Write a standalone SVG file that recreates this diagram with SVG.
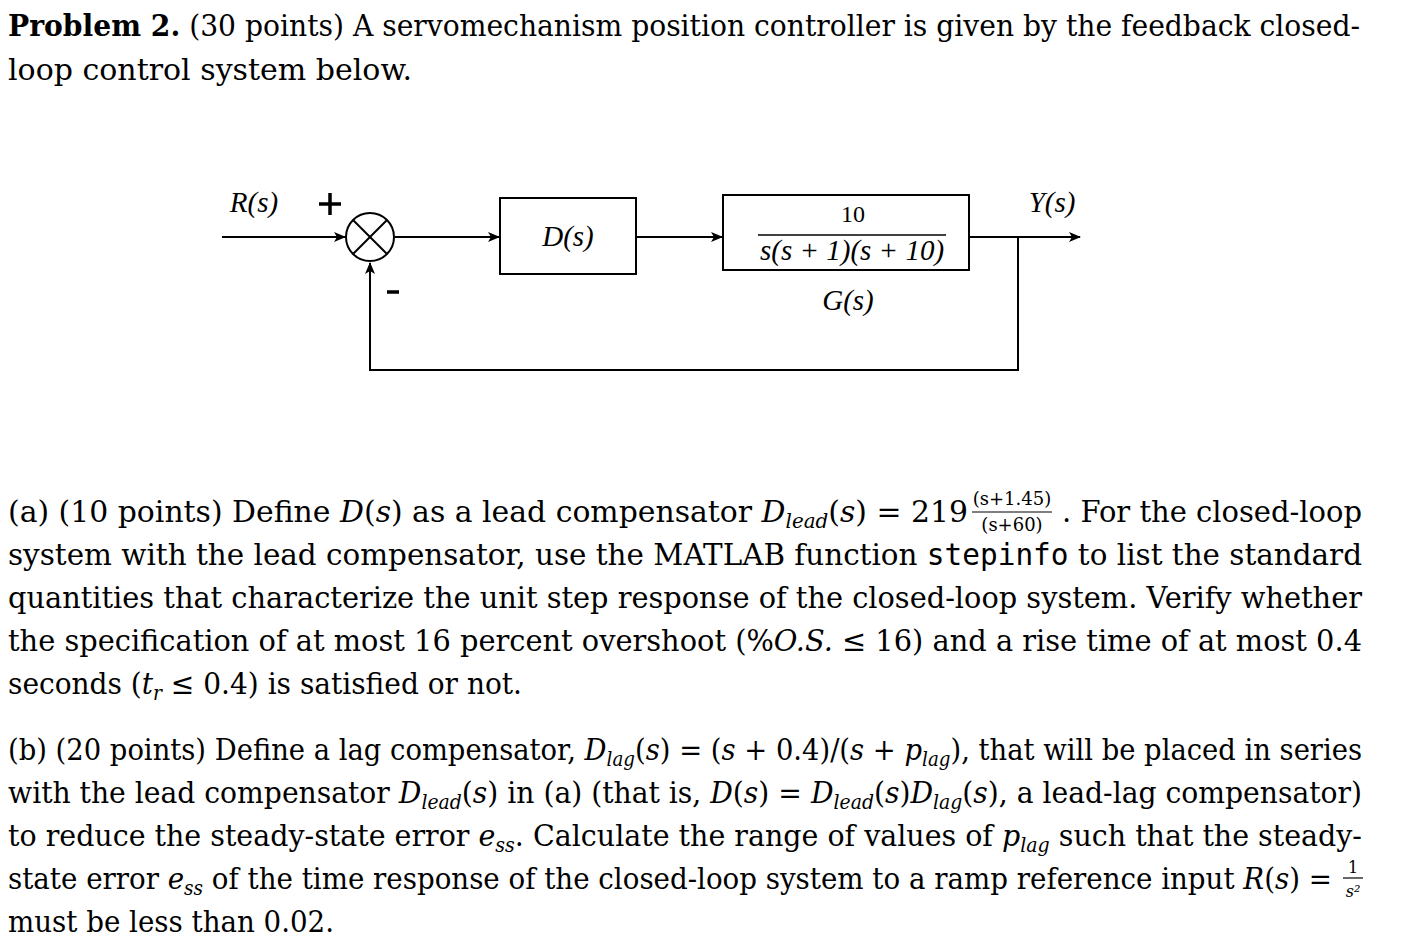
<svg xmlns="http://www.w3.org/2000/svg" width="1406" height="940" viewBox="0 0 1406 940">
<defs>
<style>
.t{font-family:"DejaVu Serif","Liberation Serif",serif;font-size:30px;fill:#000}
.m{font-family:"Liberation Serif","DejaVu Serif",serif;font-size:29px;font-style:italic;fill:#000}
.n{font-family:"Liberation Serif","DejaVu Serif",serif;font-size:24px;fill:#000}
.mono{font-family:"DejaVu Sans Mono","Liberation Mono",monospace}
.ln{stroke:#000;stroke-width:2;fill:none}
</style>
<marker id="a" markerWidth="12" markerHeight="10" refX="11" refY="5" orient="auto" markerUnits="userSpaceOnUse"><path d="M0,0 L12,5 L0,10 L3,5 Z" fill="#000"/></marker>
</defs>
<rect width="1406" height="940" fill="#fff"/>
<text class="t" x="8" y="36" textLength="1352" lengthAdjust="spacingAndGlyphs"><tspan font-weight="bold">Problem 2.</tspan> (30 points) A servomechanism position controller is given by the feedback closed-</text>
<text class="t" x="8" y="80">loop control system below.</text>

<g id="connectors">
<line class="ln" x1="222" y1="237" x2="345" y2="237" marker-end="url(#a)"/>
<line class="ln" x1="395" y1="237" x2="499" y2="237" marker-end="url(#a)"/>
<line class="ln" x1="636" y1="237" x2="722" y2="237" marker-end="url(#a)"/>
<line class="ln" x1="969" y1="237" x2="1080" y2="237" marker-end="url(#a)"/>
<polyline class="ln" points="1018,237 1018,370 370,370 370,263" marker-end="url(#a)"/>
</g>
<g id="sum">
<circle class="ln" cx="370" cy="237" r="24"/>
<line class="ln" x1="353" y1="220" x2="387" y2="254"/>
<line class="ln" x1="387" y1="220" x2="353" y2="254"/>
<path d="M319,204 H341 M330,193 V215" stroke="#000" stroke-width="3.5"/>
<path d="M387,292 H399" stroke="#000" stroke-width="3.5"/>
</g>
<g id="R"><text class="m" x="254" y="212" text-anchor="middle">R(s)</text></g>
<g id="Y"><text class="m" x="1052" y="212" text-anchor="middle">Y(s)</text></g>
<g id="D"><rect class="ln" x="500" y="198" width="136" height="76"/><text class="m" x="568" y="246" text-anchor="middle">D(s)</text></g>
<g id="G"><rect class="ln" x="723" y="195" width="246" height="75"/>
<text class="n" x="853" y="222" text-anchor="middle">10</text>
<line x1="758" y1="235" x2="946" y2="235" stroke="#000" stroke-width="1.5"/>
<text class="m" x="852" y="260" text-anchor="middle" font-size="25">s(s + 1)(s + 10)</text>
<text class="m" x="848" y="310" text-anchor="middle">G(s)</text></g>

<text class="t" x="8" y="522" textLength="960" lengthAdjust="spacingAndGlyphs">(a) (10 points) Define <tspan font-style="italic">D</tspan>(<tspan font-style="italic">s</tspan>) as a lead compensator <tspan font-style="italic">D<tspan font-size="20" dy="6">lead</tspan></tspan><tspan dy="-6">(</tspan><tspan font-style="italic">s</tspan>)  =  219</text>
<text x="1012" y="505" font-family="DejaVu Serif,serif" font-size="18" text-anchor="middle">(s+1.45)</text>
<line x1="972" y1="512" x2="1052" y2="512" stroke="#000" stroke-width="1.2"/>
<text x="1012" y="531" font-family="DejaVu Serif,serif" font-size="18" text-anchor="middle">(s+60)</text>
<text class="t" x="1362" y="522" text-anchor="end" textLength="300" lengthAdjust="spacingAndGlyphs">.  For the closed-loop</text>
<text class="t" x="8" y="565" textLength="1354" lengthAdjust="spacingAndGlyphs">system with the lead compensator, use the MATLAB function <tspan class="mono">stepinfo</tspan> to list the standard</text>
<text class="t" x="8" y="608" textLength="1354" lengthAdjust="spacingAndGlyphs">quantities that characterize the unit step response of the closed-loop system. Verify whether</text>
<text class="t" x="8" y="651" textLength="1354" lengthAdjust="spacingAndGlyphs">the specification of at most 16 percent overshoot (%<tspan font-style="italic">O.S.</tspan> ≤ 16) and a rise time of at most 0.4</text>
<text class="t" x="8" y="694" textLength="514" lengthAdjust="spacingAndGlyphs">seconds (<tspan font-style="italic">t<tspan font-size="20" dy="6">r</tspan></tspan><tspan dy="-6"> ≤ 0.4) is satisfied or not.</tspan></text>

<text class="t" x="8" y="760" textLength="1354" lengthAdjust="spacingAndGlyphs">(b) (20 points) Define a lag compensator, <tspan font-style="italic">D<tspan font-size="20" dy="6">lag</tspan></tspan><tspan dy="-6">(</tspan><tspan font-style="italic">s</tspan>) = (<tspan font-style="italic">s</tspan> + 0.4)/(<tspan font-style="italic">s</tspan> + <tspan font-style="italic">p<tspan font-size="20" dy="6">lag</tspan></tspan><tspan dy="-6">), that will be placed in series</tspan></text>
<text class="t" x="8" y="803" textLength="1354" lengthAdjust="spacingAndGlyphs">with the lead compensator <tspan font-style="italic">D<tspan font-size="20" dy="6">lead</tspan></tspan><tspan dy="-6">(</tspan><tspan font-style="italic">s</tspan>) in (a) (that is, <tspan font-style="italic">D</tspan>(<tspan font-style="italic">s</tspan>) = <tspan font-style="italic">D<tspan font-size="20" dy="6">lead</tspan></tspan><tspan dy="-6">(</tspan><tspan font-style="italic">s</tspan>)<tspan font-style="italic">D<tspan font-size="20" dy="6">lag</tspan></tspan><tspan dy="-6">(</tspan><tspan font-style="italic">s</tspan>), a lead-lag compensator)</text>
<text class="t" x="8" y="846" textLength="1354" lengthAdjust="spacingAndGlyphs">to reduce the steady-state error <tspan font-style="italic">e<tspan font-size="20" dy="6">ss</tspan></tspan><tspan dy="-6">. Calculate the range of values of </tspan><tspan font-style="italic">p<tspan font-size="20" dy="6">lag</tspan></tspan><tspan dy="-6"> such that the steady-</tspan></text>
<text class="t" x="8" y="889" textLength="1324" lengthAdjust="spacingAndGlyphs">state error <tspan font-style="italic">e<tspan font-size="20" dy="6">ss</tspan></tspan><tspan dy="-6"> of the time response of the closed-loop system to a ramp reference input </tspan><tspan font-style="italic">R</tspan>(<tspan font-style="italic">s</tspan>)  =</text>
<text x="1353" y="873" font-family="DejaVu Serif,serif" font-size="16" text-anchor="middle">1</text>
<line x1="1343" y1="878" x2="1363" y2="878" stroke="#000" stroke-width="1.2"/>
<text x="1353" y="897" font-family="DejaVu Serif,serif" font-size="16" font-style="italic" text-anchor="middle">s²</text>
<text class="t" x="8" y="932" textLength="326" lengthAdjust="spacingAndGlyphs">must be less than 0.02.</text>
</svg>
